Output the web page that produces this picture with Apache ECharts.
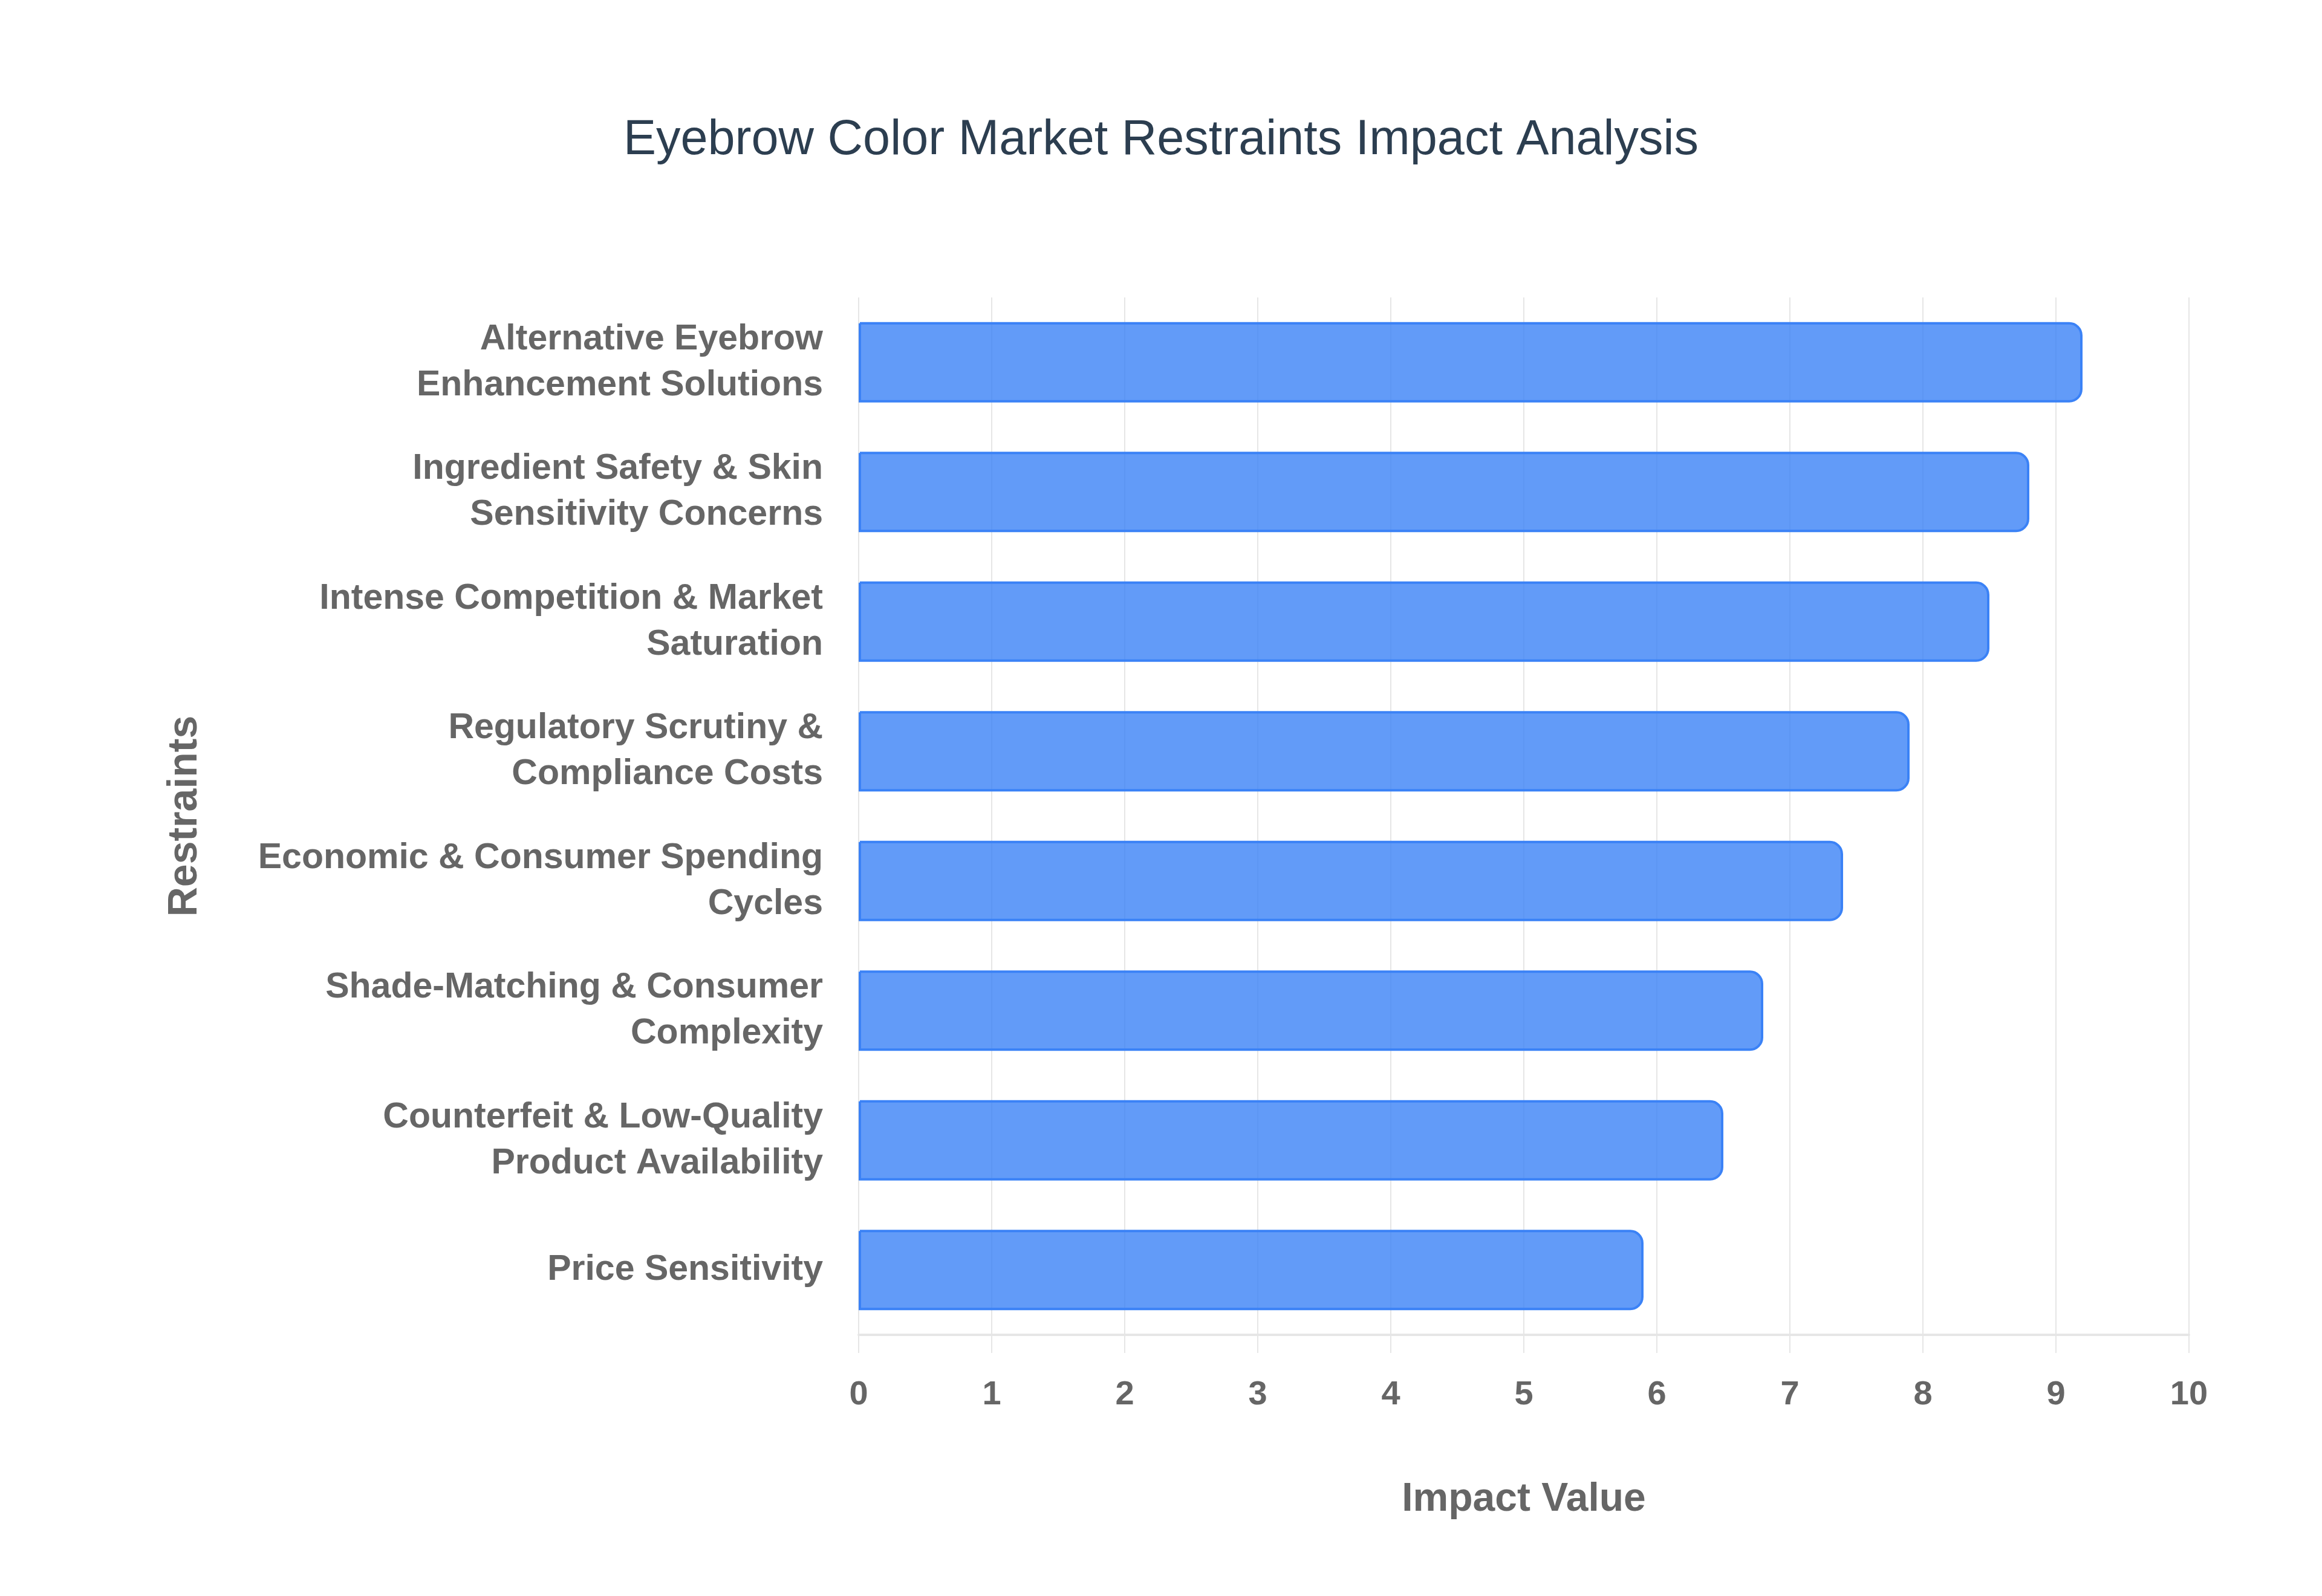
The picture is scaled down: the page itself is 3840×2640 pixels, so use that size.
<!DOCTYPE html>
<html>
<head>
<meta charset="utf-8">
<script src="https://cdn.jsdelivr.net/npm/echarts@6/dist/echarts.min.js"></script>
<style>
html,body{margin:0;padding:0;background:#fff;}
#chart{width:3840px;height:2640px;}
</style>
</head>
<body>
<div id="chart"></div>
<script>
const titleText = 'Eyebrow Color Market Restraints Impact Analysis';
const categories = [
  'Alternative Eyebrow\nEnhancement Solutions',
  'Ingredient Safety & Skin\nSensitivity Concerns',
  'Intense Competition & Market\nSaturation',
  'Regulatory Scrutiny &\nCompliance Costs',
  'Economic & Consumer Spending\nCycles',
  'Shade-Matching & Consumer\nComplexity',
  'Counterfeit & Low-Quality\nProduct Availability',
  'Price Sensitivity'
];
const impactValues = [9.2, 8.8, 8.5, 7.9, 7.4, 6.8, 6.5, 5.9];
const xTicks = { min: 0, max: 10, interval: 1 };
const xName = 'Impact Value';
const yName = 'Restraints';

const chart = echarts.init(document.getElementById('chart'));
const font = '"Liberation Sans", Arial, Helvetica, sans-serif';
chart.setOption({
  backgroundColor: '#ffffff',
  animation: false,
  title: {
    text: titleText,
    left: 'center',
    top: 187,
    textStyle: { fontFamily: font, fontSize: 81, fontWeight: 'normal', color: '#2c3e50' }
  },
  grid: { left: 1420, right: 220, top: 492, bottom: 432, containLabel: false },
  xAxis: {
    type: 'value',
    min: xTicks.min, max: xTicks.max, interval: xTicks.interval,
    name: xName,
    nameLocation: 'middle',
    nameGap: 240,
    nameTextStyle: { fontFamily: font, fontSize: 66, fontWeight: 'bold', color: '#666666' },
    axisLine: { show: true, lineStyle: { color: '#e6e6e6', width: 4 } },
    axisTick: { show: true, length: 30, lineStyle: { color: '#e6e6e6', width: 2 } },
    axisLabel: { margin: 72, fontFamily: font, fontSize: 56, fontWeight: 'bold', color: '#666666' },
    splitLine: { show: true, lineStyle: { color: '#e6e6e6', width: 2 } }
  },
  yAxis: {
    type: 'category',
    data: categories,
    inverse: true,
    name: yName,
    nameLocation: 'middle',
    nameGap: 1080,
    nameTextStyle: { fontFamily: font, fontSize: 68, fontWeight: 'bold', color: '#666666' },
    axisLine: { show: false },
    axisTick: { show: false },
    axisLabel: { margin: 59, fontFamily: font, fontSize: 59, fontWeight: 'bold', color: '#666666', lineHeight: 76, align: 'right' },
    splitLine: { show: false }
  },
  series: [{
    type: 'bar',
    data: impactValues,
    barCategoryGap: '38%',
    itemStyle: {
      color: 'rgba(59,130,246,0.8)',
      borderColor: '#3b82f6',
      borderWidth: 4,
      borderRadius: [0, 20, 20, 0]
    }
  }]
});
</script>
</body>
</html>
